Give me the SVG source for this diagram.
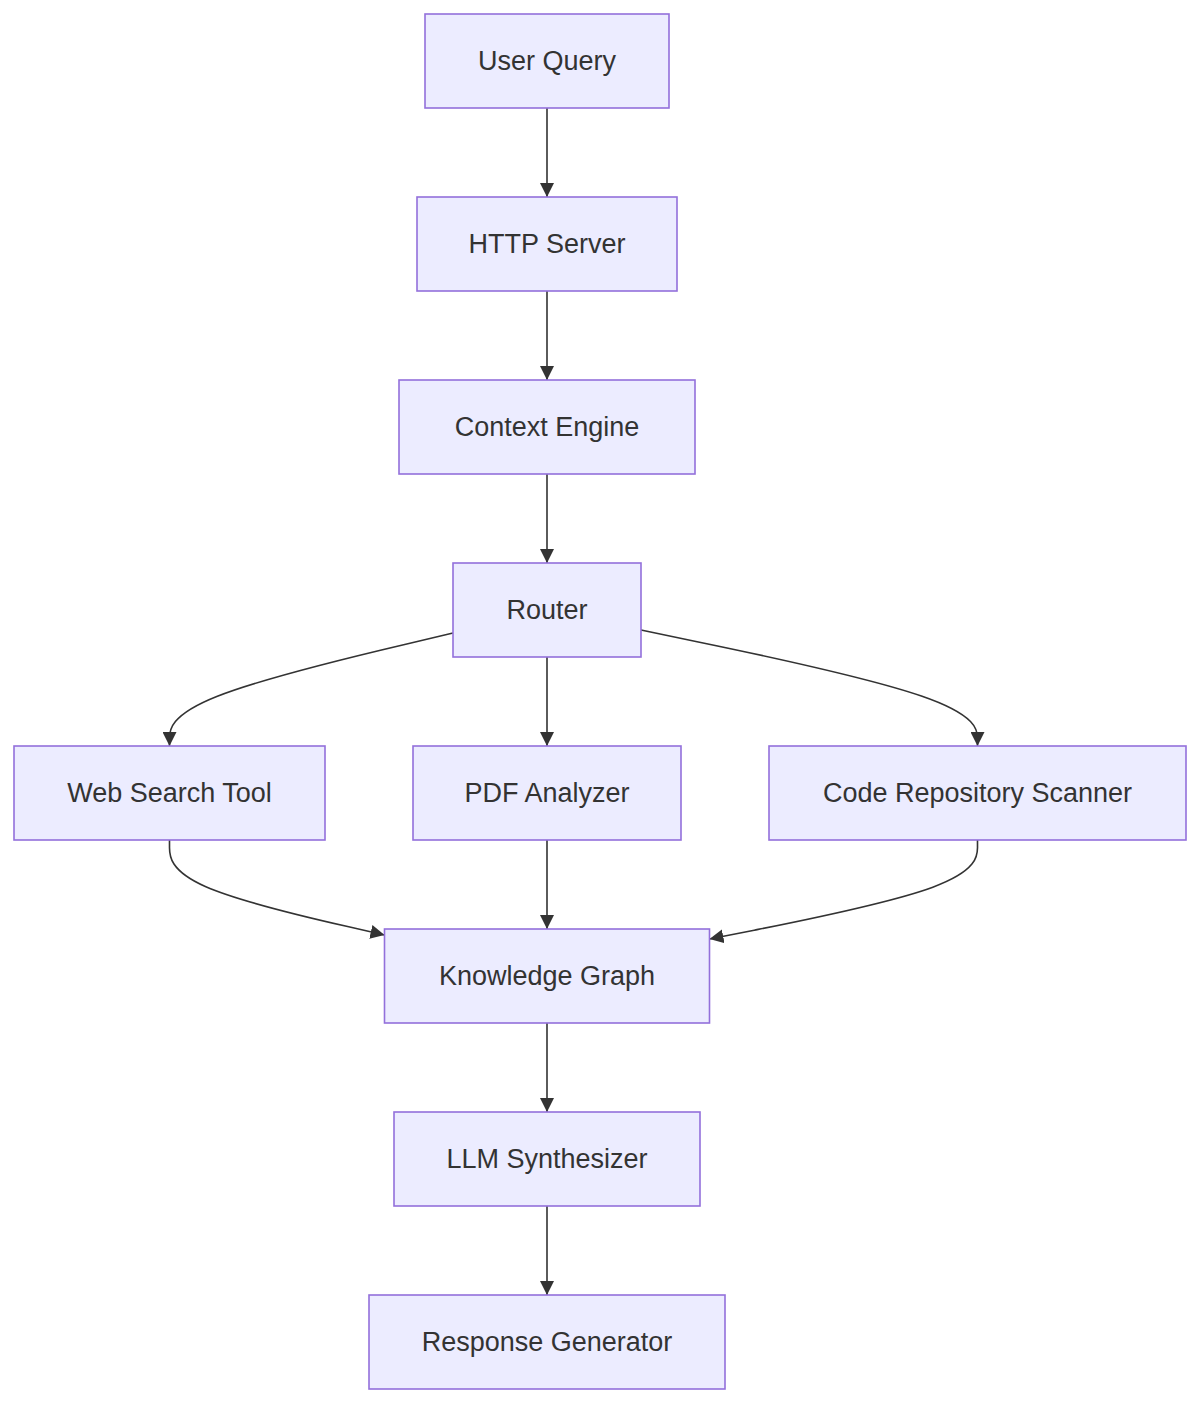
<svg xmlns="http://www.w3.org/2000/svg" width="1200" height="1403" viewBox="0 0 1200 1403">
<style>
.node rect{fill:#ECECFF;stroke:#9370DB;stroke-width:1.6}
.node text{font-family:"Liberation Sans",Arial,sans-serif;font-size:27px;fill:#333;text-anchor:middle;dominant-baseline:central}
.edge{fill:none;stroke:#333;stroke-width:1.6}
</style>
<defs>
<marker id="arr" viewBox="0 0 10 10" refX="10" refY="5" markerUnits="userSpaceOnUse" markerWidth="14" markerHeight="14" orient="auto">
<path d="M0,0 L10,5 L0,10 z" fill="#333"/>
</marker>
</defs>
<rect width="1200" height="1403" fill="#fff"/>
<g id="edges">
<path class="edge" marker-end="url(#arr)" d="M547,108 L547,197"/>
<path class="edge" marker-end="url(#arr)" d="M547,291 L547,380"/>
<path class="edge" marker-end="url(#arr)" d="M547,474 L547,563"/>
<path class="edge" marker-end="url(#arr)" d="M453,633 L405.75,644.2 C358.5,655.3 264,677.7 216.75,696.5 C169.5,715.3 169.5,730.7 169.5,738.3 L169.5,746"/>
<path class="edge" marker-end="url(#arr)" d="M547,657 L547,746"/>
<path class="edge" marker-end="url(#arr)" d="M641,630 L697.1,641.7 C753.2,653.3 865.3,676.7 921.4,696 C977.5,715.3 977.5,730.7 977.5,738.3 L977.5,746"/>
<path class="edge" marker-end="url(#arr)" d="M169.5,840 L169.5,847.7 C169.5,855.3 169.5,870.7 205.3,886.5 C241.2,902.3 312.8,918.7 348.7,926.8 L384.5,935"/>
<path class="edge" marker-end="url(#arr)" d="M547,840 L547,929"/>
<path class="edge" marker-end="url(#arr)" d="M977.5,840 L977.5,847.7 C977.5,855.3 977.5,870.7 932.8,887.2 C888.2,903.7 798.8,921.3 754.2,930.2 L709.5,939"/>
<path class="edge" marker-end="url(#arr)" d="M547,1023 L547,1112"/>
<path class="edge" marker-end="url(#arr)" d="M547,1206 L547,1295"/>
</g>
<g id="user-query" class="node"><rect x="425" y="14" width="244" height="94"/><text x="547" y="61">User Query</text></g>
<g id="http-server" class="node"><rect x="417" y="197" width="260" height="94"/><text x="547" y="244">HTTP Server</text></g>
<g id="context-engine" class="node"><rect x="399" y="380" width="296" height="94"/><text x="547" y="427">Context Engine</text></g>
<g id="router" class="node"><rect x="453" y="563" width="188" height="94"/><text x="547" y="610">Router</text></g>
<g id="web-search-tool" class="node"><rect x="14" y="746" width="311" height="94"/><text x="169.5" y="793">Web Search Tool</text></g>
<g id="pdf-analyzer" class="node"><rect x="413" y="746" width="268" height="94"/><text x="547" y="793">PDF Analyzer</text></g>
<g id="code-repository-scanner" class="node"><rect x="769" y="746" width="417" height="94"/><text x="977.5" y="793">Code Repository Scanner</text></g>
<g id="knowledge-graph" class="node"><rect x="384.5" y="929" width="325" height="94"/><text x="547" y="976">Knowledge Graph</text></g>
<g id="llm-synthesizer" class="node"><rect x="394" y="1112" width="306" height="94"/><text x="547" y="1159">LLM Synthesizer</text></g>
<g id="response-generator" class="node"><rect x="369" y="1295" width="356" height="94"/><text x="547" y="1342">Response Generator</text></g>
</svg>
